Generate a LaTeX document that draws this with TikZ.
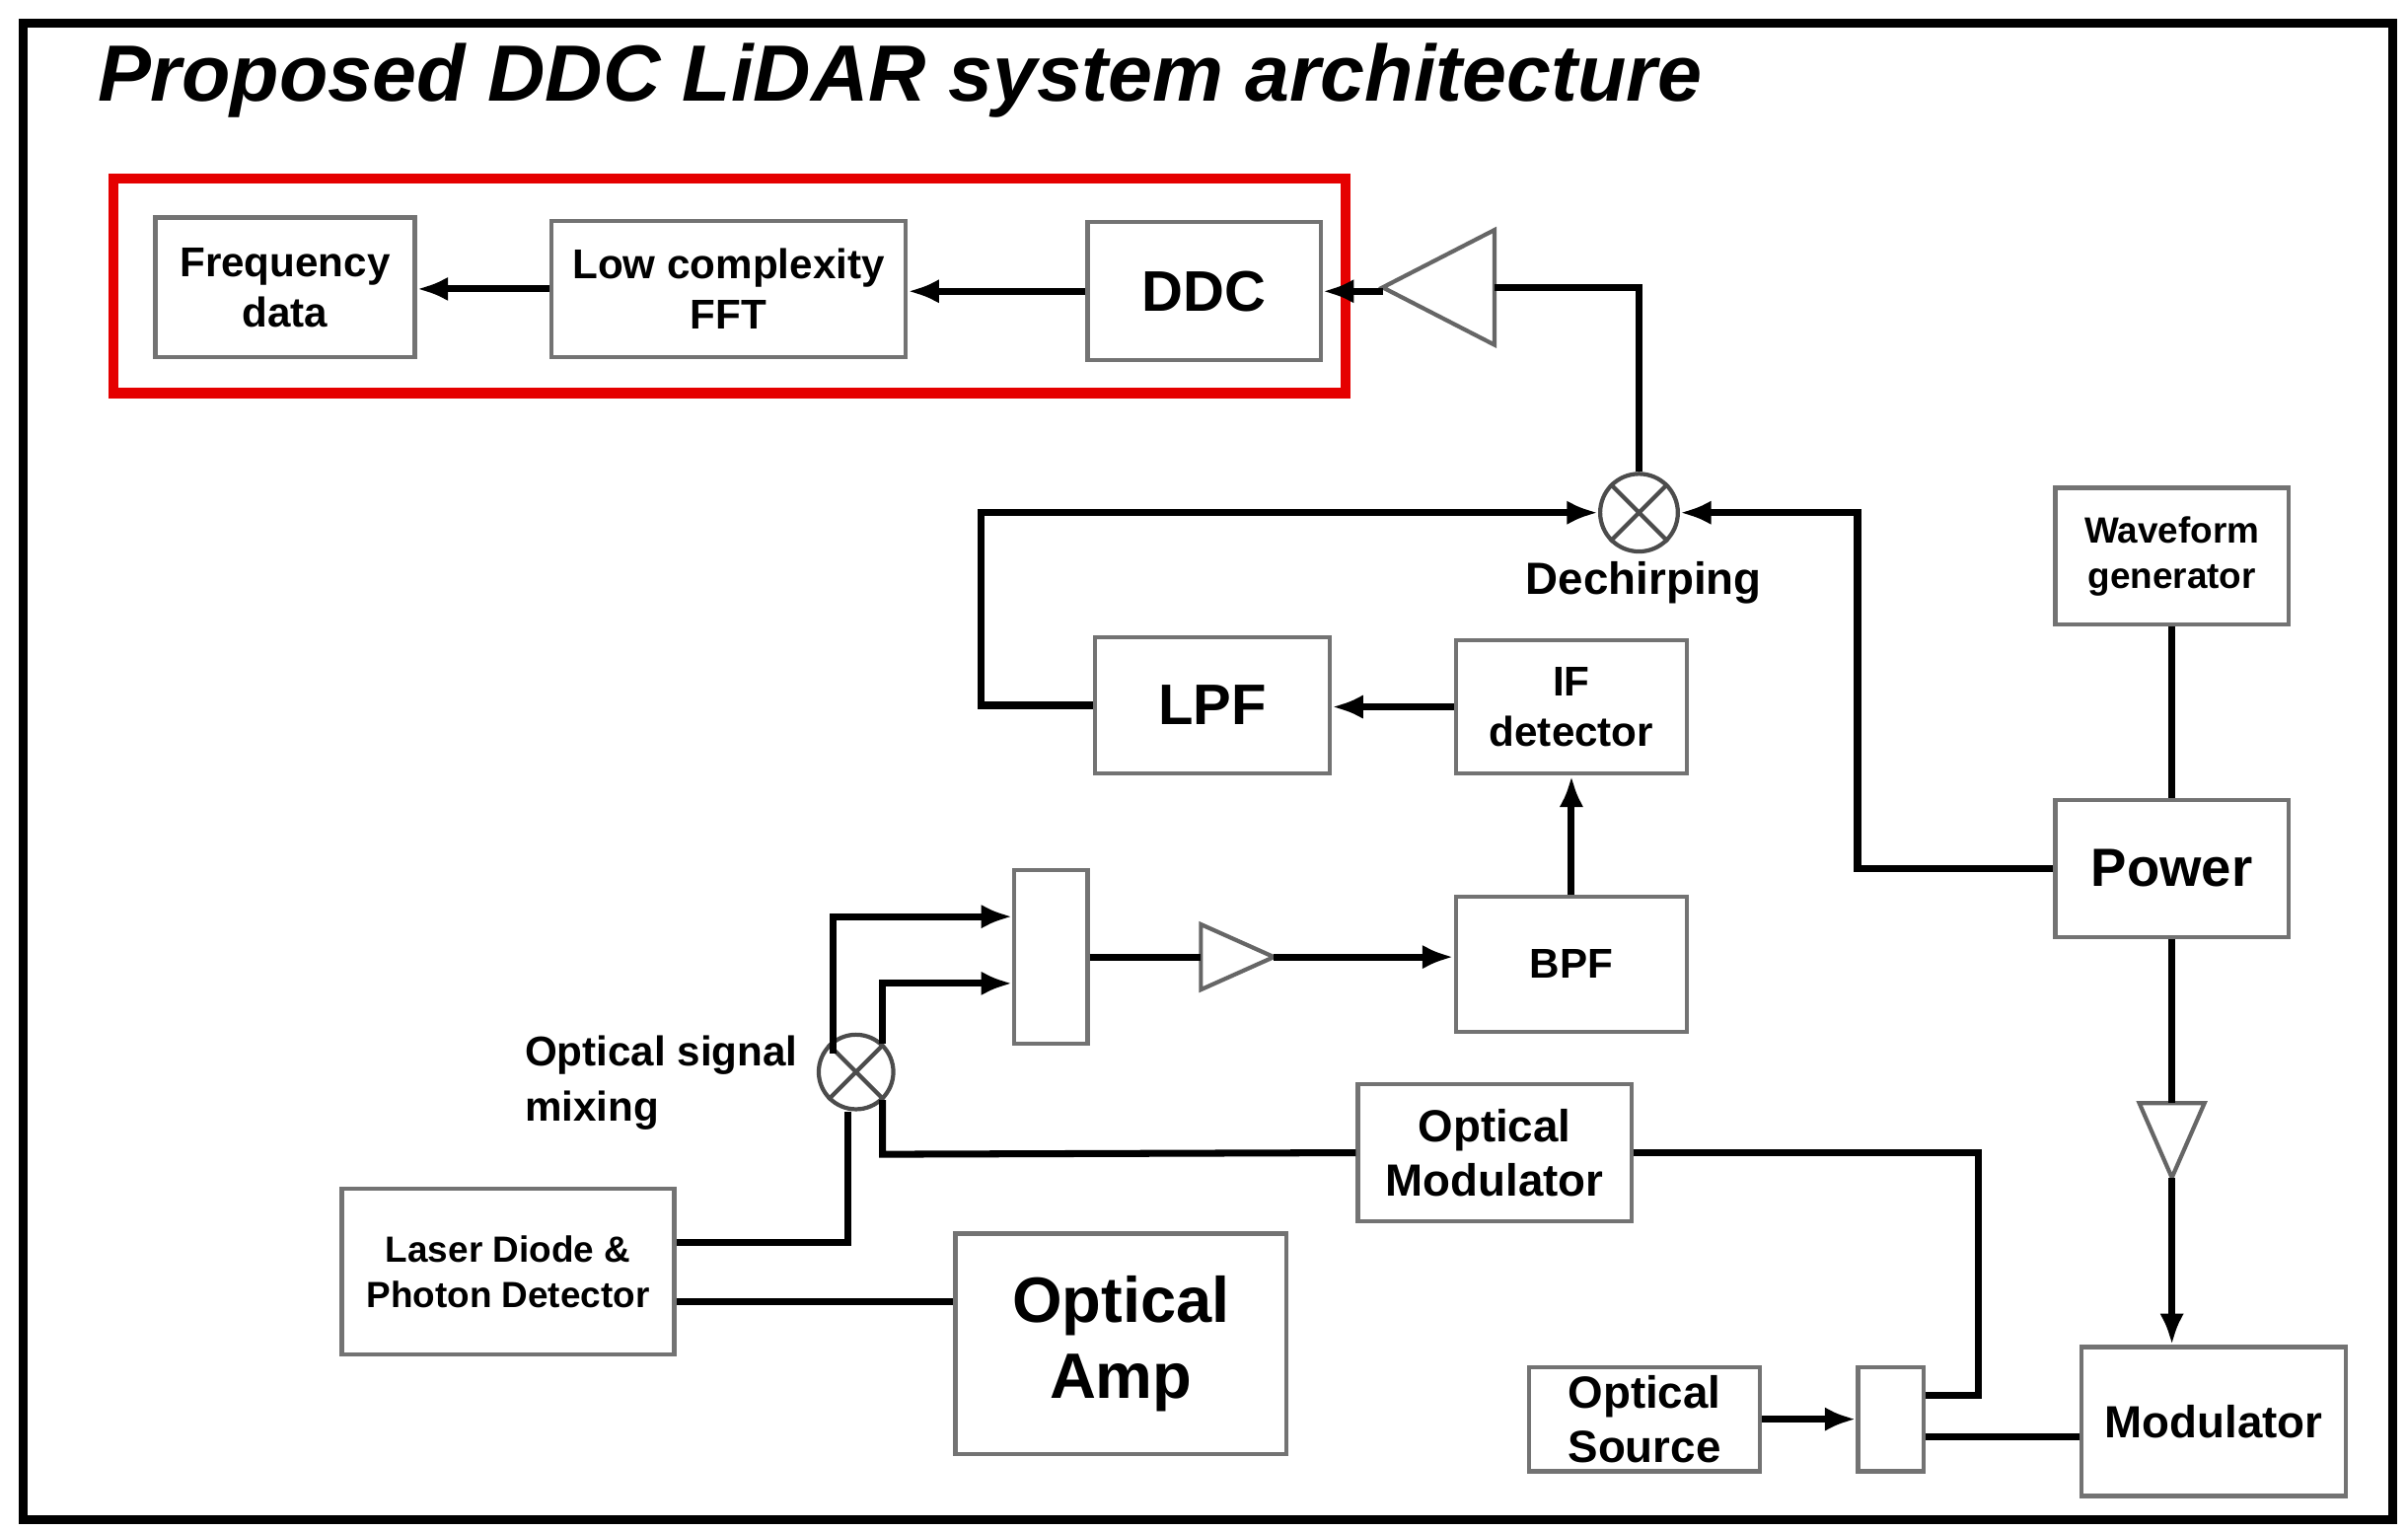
\documentclass[tikz,border=0pt]{standalone}
\usepackage{fontspec}
\setmainfont{Liberation Sans}
\usetikzlibrary{arrows.meta}
\begin{document}
\begin{tikzpicture}[x=0.01575cm,y=-0.01575cm,
  box/.style={draw=black!55,line width=1.2pt,inner sep=0pt,align=center,font=\bfseries\fontsize{12}{14.5}\selectfont},
  ln/.style={line width=2pt,black},
  ar/.style={ln,-{Latex[length=9pt,width=7pt]}},
  tri/.style={draw=black!60,line width=1.2pt,fill=white}]
\newcommand\mybox[6][]{\node[box,#1,minimum width={(#5-#3)*0.01575cm},minimum height={(#6-#4)*0.01575cm}] (#2) at ({(#3+#5)/2},{(#4+#6)/2})}
\useasboundingbox (0,0) rectangle (1550,986);
\draw[line width=2.5pt] (15,15) rectangle (1540,978);
\node[anchor=west,font=\bfseries\itshape\fontsize{23}{27}\selectfont] (title) at (55,52) {Proposed DDC LiDAR system architecture};
\draw[red!90!black,line width=3pt] (73,115) rectangle (866,253);
\mybox{freq}{100}{140}{267}{230}{Frequency\\data};
\mybox{fft}{355}{142}{583}{230}{Low complexity\\FFT};
\mybox[font=\bfseries\fontsize{16.5}{20}\selectfont]{ddc}{700}{143}{850}{232}{DDC};
\mybox[font=\bfseries\fontsize{16.5}{20}\selectfont]{lpf}{705}{410}{856}{498}{LPF};
\mybox{ifd}{937}{412}{1086}{498}{IF\\detector};
\mybox[font=\bfseries\fontsize{10.5}{13}\selectfont]{wave}{1323}{314}{1473}{402}{Waveform\\generator};
\mybox[font=\bfseries\fontsize{15.5}{19}\selectfont]{power}{1323}{515}{1473}{603}{Power};
\mybox{bpf}{937}{577}{1086}{664}{BPF};
\mybox{comb}{653}{560}{700}{672}{};
\mybox[font=\bfseries\fontsize{13}{15.5}\selectfont]{omod}{874}{698}{1050}{786}{Optical\\Modulator};
\mybox[font=\bfseries\fontsize{10.5}{13}\selectfont]{ld}{220}{765}{434}{872}{Laser Diode \&\\Photon Detector};
\mybox[font=\bfseries\fontsize{18.5}{22}\selectfont]{amp}{615}{794}{828}{936}{Optical\\Amp};
\mybox[font=\bfseries\fontsize{13}{15.5}\selectfont]{src}{984}{880}{1133}{947}{Optical\\Source};
\mybox{sb}{1196}{880}{1238}{947}{};
\mybox[font=\bfseries\fontsize{13}{15.5}\selectfont]{mod}{1340}{867}{1510}{963}{Modulator};
% mixers
\node[circle,draw=black!70,line width=1.2pt,minimum size=50*0.01575cm,inner sep=0pt] (dch) at (1055,330) {};
\draw[black!70,line width=1.2pt] (dch.north east)--(dch.south west) (dch.north west)--(dch.south east);
\node[font=\bfseries\fontsize{13}{15.5}\selectfont] (dchl) at (1058,375) {Dechirping};
\node[circle,draw=black!70,line width=1.2pt,minimum size=48*0.01575cm,inner sep=0pt] (osm) at (551,690) {};
\draw[black!70,line width=1.2pt] (osm.north east)--(osm.south west) (osm.north west)--(osm.south east);
\node[anchor=west,align=left,font=\bfseries\fontsize{12}{16}\selectfont] (osml) at (330,697) {Optical signal\\mixing};
% amplifiers
\draw[tri] (962,148)--(962,222)--(890,185)--cycle;
\coordinate (a1tip) at (890,187.5); \coordinate (a1base) at (962,185);
\draw[tri] (773,595)--(773,637)--(820,616)--cycle;
\coordinate (a2in) at (773,616); \coordinate (a2tip) at (820,616);
\draw[tri] (1377,710)--(1419,710)--(1398,758)--cycle;
\coordinate (a3in) at (1398,710); \coordinate (a3tip) at (1398,758);
% connectors
\draw[ar] (ddc.west) -- (ddc.west -| fft.east);
\draw[ar] (fft.west) -- (fft.west -| freq.east);
\draw[ar] (a1tip) -- (ddc.east);
\draw[ln] (a1base) -| (dch.north);
\draw[ar] (lpf.west) -- ++(-72,0) |- (dch.west);
\draw[ar] (power.west) -- ++(-126,0) |- (dch.east);
\draw[ar] (ifd.west) -- (ifd.west -| lpf.east);
\draw[ln] (wave.south) -- (power.north);
\draw[ln] (power.south) -- (a3in);
\draw[ar] (a3tip) -- (a3tip |- mod.north);
\draw[ar] (bpf.north) -- (ifd.south);
\draw[ln] (comb.east) -- (a2in);
\draw[ar] (a2tip) -- (a2tip -| bpf.west);
\draw[ar] (osm.center) ++(-15,-12) -- ++(0,-88) -- (comb.west |- 0,590);
\draw[ar] (osm.center) ++(17,-18) -- ++(0,-39) -- (comb.west |- 0,633);
\draw[ln] (osm.center) ++(17,18) -- ++(0,35) -- (omod.west);
\draw[ln] (omod.east) -- ++(222,0) |- (sb.east |- 0,898);
\draw[ar] (src.east) -- (sb.west |- src.east);
\draw[ln] (sb.east |- 0,925) -- (mod.west |- 0,925);
\draw[ln] (ld.east |- 0,800) -| ([xshift=-5*0.01575cm]osm.south);
\draw[ln] (ld.east |- 0,838) -- (amp.west |- 0,838);
\end{tikzpicture}
\end{document}
